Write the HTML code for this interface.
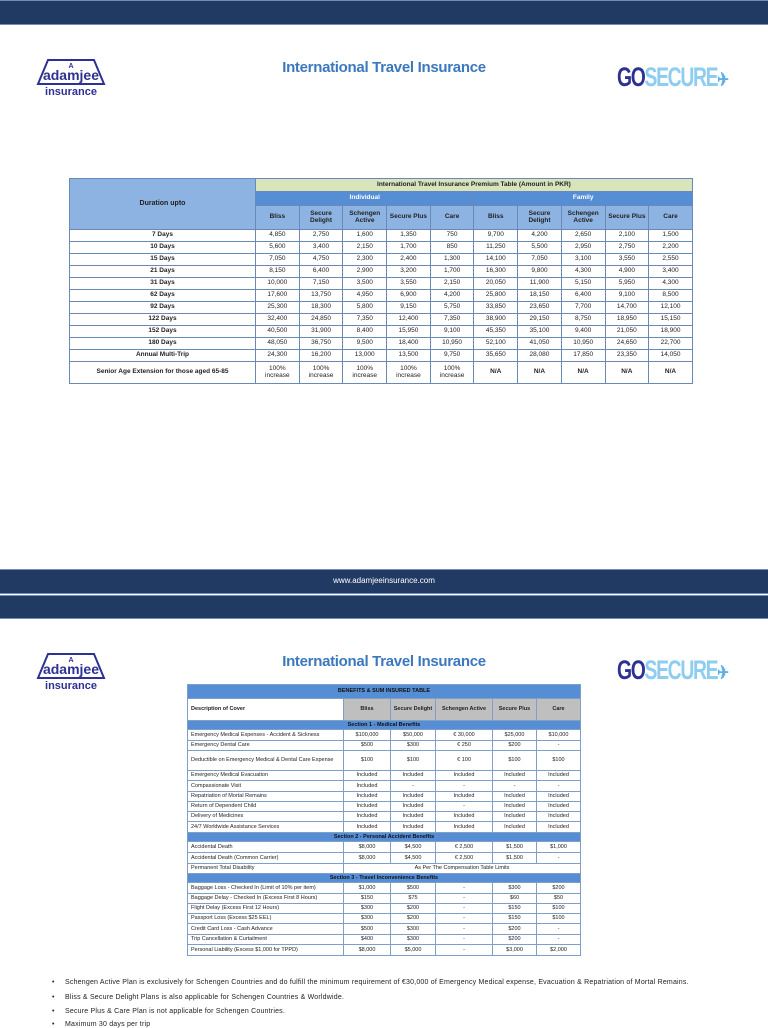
<!DOCTYPE html>
<html><head><meta charset="utf-8"><style>
*{margin:0;padding:0;box-sizing:border-box}
body{width:768px;height:1024px;overflow:hidden;background:#fff;font-family:"Liberation Sans",sans-serif;position:relative}
.bar{position:absolute;left:0;width:768px;background:#213a63;border-top:1px solid #6f8fbf;border-bottom:1px solid #6f8fbf}
.title{position:absolute;left:0;width:768px;text-align:center;color:#3b78bd;font-size:15px;font-weight:bold;letter-spacing:-0.3px}
.logo{position:absolute;color:#2d3191;font-weight:bold;text-align:center}
.go{position:absolute;font-weight:bold;font-size:22px;letter-spacing:-1.5px;font-family:"Liberation Sans Narrow","Liberation Sans",sans-serif;transform-origin:0 0;transform:scale(0.88,1.2)}
table{position:absolute;border-collapse:collapse;table-layout:fixed}
td{border:1px solid #6a8ab5;text-align:center;font-size:6px;line-height:6.5px;padding:0;color:#222}
.t1 td{font-size:6.5px}
.hb{background:#8db3e2;font-weight:bold}
.hg{background:#d7e4bc;font-weight:bold}
.hi{background:#558ed5;color:#fff;font-weight:bold}
.lb{font-weight:bold}
.t2 td{border:1px solid #7f9fc5;font-size:5.5px}
.t2 td.l{text-align:left;padding-left:3px}
.sec td{background:#558ed5;font-weight:bold;color:#111}
.gr{background:#bfbfbf;font-weight:bold}
.bul{position:absolute;left:52px;font-size:7px;color:#222;letter-spacing:0.2px}
.bul span{position:absolute;left:13px;white-space:nowrap}
</style></head><body>
<div class="bar" style="top:0;height:25px"></div>

<div class="logo" style="left:36px;top:58px;width:70px">
<svg width="70" height="28" style="display:block"><polygon points="12,2 58,2 68,26 2,26" fill="none" stroke="#2d3191" stroke-width="2"/><text x="35" y="22" font-size="14" font-weight="bold" text-anchor="middle" fill="#2d3191" font-family="Liberation Sans">adamjee</text><text x="35" y="10" font-size="7" text-anchor="middle" fill="#2d3191">A</text></svg>
<div style="font-size:11px;margin-top:0px">insurance</div></div>
<div class="title" style="top:59px">International Travel Insurance</div>
<div class="go" style="left:617px;top:62px"><span style="color:#2d3191">GO</span><span style="color:#8ecdf0">SECURE</span><span style="color:#5bb0e6;font-size:16px">✈</span></div>

<table class="t1" style="left:69px;top:178px;width:623px">
<colgroup><col style="width:186px"><col span="10" style="width:43.7px"></colgroup>
<tr style="height:13px"><td class="hb" rowspan="3" style="font-size:7px">Duration upto</td><td class="hg" colspan="10">International Travel Insurance Premium Table (Amount in PKR)</td></tr>
<tr style="height:14px"><td class="hi" colspan="5">Individual</td><td class="hi" colspan="5">Family</td></tr>
<tr style="height:24px" class="hb"><td class="hb">Bliss</td><td class="hb">Secure Delight</td><td class="hb">Schengen Active</td><td class="hb">Secure Plus</td><td class="hb">Care</td><td class="hb">Bliss</td><td class="hb">Secure Delight</td><td class="hb">Schengen Active</td><td class="hb">Secure Plus</td><td class="hb">Care</td></tr>
<tr style="height:12px"><td class="lb">7 Days</td><td>4,850</td><td>2,750</td><td>1,600</td><td>1,350</td><td>750</td><td>9,700</td><td>4,200</td><td>2,650</td><td>2,100</td><td>1,500</td></tr>
<tr style="height:12px"><td class="lb">10 Days</td><td>5,600</td><td>3,400</td><td>2,150</td><td>1,700</td><td>850</td><td>11,250</td><td>5,500</td><td>2,950</td><td>2,750</td><td>2,200</td></tr>
<tr style="height:12px"><td class="lb">15 Days</td><td>7,050</td><td>4,750</td><td>2,300</td><td>2,400</td><td>1,300</td><td>14,100</td><td>7,050</td><td>3,100</td><td>3,550</td><td>2,550</td></tr>
<tr style="height:12px"><td class="lb">21 Days</td><td>8,150</td><td>6,400</td><td>2,900</td><td>3,200</td><td>1,700</td><td>16,300</td><td>9,800</td><td>4,300</td><td>4,900</td><td>3,400</td></tr>
<tr style="height:12px"><td class="lb">31 Days</td><td>10,000</td><td>7,150</td><td>3,500</td><td>3,550</td><td>2,150</td><td>20,050</td><td>11,900</td><td>5,150</td><td>5,950</td><td>4,300</td></tr>
<tr style="height:12px"><td class="lb">62 Days</td><td>17,600</td><td>13,750</td><td>4,950</td><td>6,900</td><td>4,200</td><td>25,800</td><td>18,150</td><td>6,400</td><td>9,100</td><td>8,500</td></tr>
<tr style="height:12px"><td class="lb">92 Days</td><td>25,300</td><td>18,300</td><td>5,800</td><td>9,150</td><td>5,750</td><td>33,850</td><td>23,650</td><td>7,700</td><td>14,700</td><td>12,100</td></tr>
<tr style="height:12px"><td class="lb">122 Days</td><td>32,400</td><td>24,850</td><td>7,350</td><td>12,400</td><td>7,350</td><td>38,900</td><td>29,150</td><td>8,750</td><td>18,950</td><td>15,150</td></tr>
<tr style="height:12px"><td class="lb">152 Days</td><td>40,500</td><td>31,900</td><td>8,400</td><td>15,950</td><td>9,100</td><td>45,350</td><td>35,100</td><td>9,400</td><td>21,050</td><td>18,900</td></tr>
<tr style="height:12px"><td class="lb">180 Days</td><td>48,050</td><td>36,750</td><td>9,500</td><td>18,400</td><td>10,950</td><td>52,100</td><td>41,050</td><td>10,950</td><td>24,650</td><td>22,700</td></tr>
<tr style="height:12px"><td class="lb">Annual Multi-Trip</td><td>24,300</td><td>16,200</td><td>13,000</td><td>13,500</td><td>9,750</td><td>35,650</td><td>28,080</td><td>17,850</td><td>23,350</td><td>14,050</td></tr>
<tr style="height:22px"><td class="lb">Senior Age Extension for those aged 65-85</td><td>100% increase</td><td>100% increase</td><td>100% increase</td><td>100% increase</td><td>100% increase</td><td class="lb">N/A</td><td class="lb">N/A</td><td class="lb">N/A</td><td class="lb">N/A</td><td class="lb">N/A</td></tr>
</table>

<div class="bar" style="top:569px;height:25px;color:#fff;font-size:8px;text-align:center;line-height:22px">www.adamjeeinsurance.com</div>
<div class="bar" style="top:595px;height:24px"></div>

<div class="logo" style="left:36px;top:652px;width:70px">
<svg width="70" height="28" style="display:block"><polygon points="12,2 58,2 68,26 2,26" fill="none" stroke="#2d3191" stroke-width="2"/><text x="35" y="22" font-size="14" font-weight="bold" text-anchor="middle" fill="#2d3191" font-family="Liberation Sans">adamjee</text><text x="35" y="10" font-size="7" text-anchor="middle" fill="#2d3191">A</text></svg>
<div style="font-size:11px">insurance</div></div>
<div class="title" style="top:653px">International Travel Insurance</div>
<div class="go" style="left:617px;top:655px"><span style="color:#2d3191">GO</span><span style="color:#8ecdf0">SECURE</span><span style="color:#5bb0e6;font-size:16px">✈</span></div>

<table class="t2" style="left:187px;top:684px;width:393px">
<colgroup><col style="width:156px"><col style="width:47px"><col style="width:45px"><col style="width:57px"><col style="width:44px"><col style="width:44px"></colgroup>
<tr style="height:14px" class="sec"><td colspan="6">BENEFITS &amp; SUM INSURED TABLE</td></tr>
<tr style="height:22px"><td class="l lb">Description of Cover</td><td class="gr">Bliss</td><td class="gr">Secure Delight</td><td class="gr">Schengen Active</td><td class="gr">Secure Plus</td><td class="gr">Care</td></tr>
<tr style="height:9px" class="sec"><td colspan="6">Section 1 - Medical Benefits</td></tr>
<tr style="height:11px"><td class="l">Emergency Medical Expenses - Accident &amp; Sickness</td><td>$100,000</td><td>$50,000</td><td>€ 30,000</td><td>$25,000</td><td>$10,000</td></tr>
<tr style="height:10px"><td class="l">Emergency Dental Care</td><td>$500</td><td>$300</td><td>€ 250</td><td>$200</td><td>-</td></tr>
<tr style="height:20px"><td class="l">Deductible on Emergency Medical &amp; Dental Care Expense</td><td>$100</td><td>$100</td><td>€ 100</td><td>$100</td><td>$100</td></tr>
<tr style="height:10px"><td class="l">Emergency Medical Evacuation</td><td>Included</td><td>Included</td><td>Included</td><td>Included</td><td>Included</td></tr>
<tr style="height:11px"><td class="l">Compassionate Visit</td><td>Included</td><td>-</td><td>-</td><td>-</td><td>-</td></tr>
<tr style="height:10px"><td class="l">Repatriation of Mortal Remains</td><td>Included</td><td>Included</td><td>Included</td><td>Included</td><td>Included</td></tr>
<tr style="height:10px"><td class="l">Return of Dependent Child</td><td>Included</td><td>Included</td><td>-</td><td>Included</td><td>Included</td></tr>
<tr style="height:10px"><td class="l">Delivery of Medicines</td><td>Included</td><td>Included</td><td>Included</td><td>Included</td><td>Included</td></tr>
<tr style="height:11px"><td class="l">24/7 Worldwide Assistance Services</td><td>Included</td><td>Included</td><td>Included</td><td>Included</td><td>Included</td></tr>
<tr style="height:9px" class="sec"><td colspan="6">Section 2 - Personal Accident Benefits</td></tr>
<tr style="height:11px"><td class="l">Accidental Death</td><td>$8,000</td><td>$4,500</td><td>€ 2,500</td><td>$1,500</td><td>$1,000</td></tr>
<tr style="height:11px"><td class="l">Accidental Death (Common Carrier)</td><td>$8,000</td><td>$4,500</td><td>€ 2,500</td><td>$1,500</td><td>-</td></tr>
<tr style="height:10px"><td class="l">Permanent Total Disability</td><td colspan="5">As Per The Compensation Table Limits</td></tr>
<tr style="height:9px" class="sec"><td colspan="6">Section 3 - Travel Inconvenience Benefits</td></tr>
<tr style="height:11px"><td class="l">Baggage Loss - Checked In (Limit of 10% per item)</td><td>$1,000</td><td>$500</td><td>-</td><td>$300</td><td>$200</td></tr>
<tr style="height:10px"><td class="l">Baggage Delay - Checked In (Excess First 8 Hours)</td><td>$150</td><td>$75</td><td>-</td><td>$60</td><td>$50</td></tr>
<tr style="height:10px"><td class="l">Flight Delay (Excess First 12 Hours)</td><td>$300</td><td>$200</td><td>-</td><td>$150</td><td>$100</td></tr>
<tr style="height:10px"><td class="l">Passport Loss (Excess $25 EEL)</td><td>$300</td><td>$200</td><td>-</td><td>$150</td><td>$100</td></tr>
<tr style="height:11px"><td class="l">Credit Card Loss - Cash Advance</td><td>$500</td><td>$300</td><td>-</td><td>$200</td><td>-</td></tr>
<tr style="height:10px"><td class="l">Trip Cancellation &amp; Curtailment</td><td>$400</td><td>$300</td><td>-</td><td>$200</td><td>-</td></tr>
<tr style="height:11px"><td class="l">Personal Liability (Excess $1,000 for TPPD)</td><td>$8,000</td><td>$5,000</td><td>-</td><td>$3,000</td><td>$2,000</td></tr>
</table>

<div class="bul" style="top:979px">•<span>Schengen Active Plan is exclusively for Schengen Countries and do fulfill the minimum requirement of €30,000 of Emergency Medical expense, Evacuation &amp; Repatriation of Mortal Remains.</span></div>
<div class="bul" style="top:994px">•<span>Bliss &amp; Secure Delight Plans is also applicable for Schengen Countries &amp; Worldwide.</span></div>
<div class="bul" style="top:1008px">•<span>Secure Plus &amp; Care Plan is not applicable for Schengen Countries.</span></div>
<div class="bul" style="top:1021px">•<span>Maximum 30 days per trip</span></div>
</body></html>
